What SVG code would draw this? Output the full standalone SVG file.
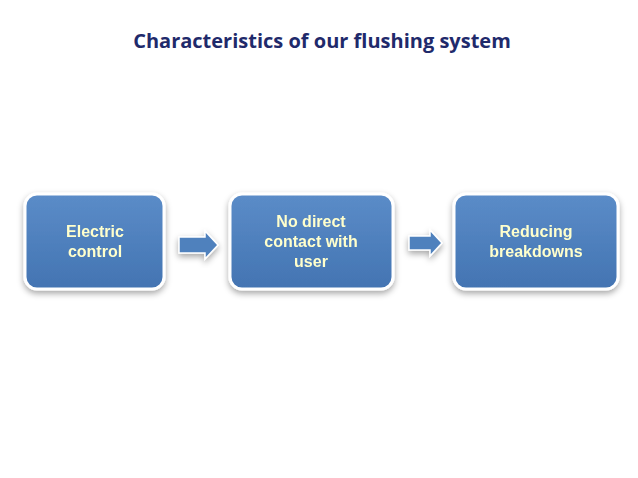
<svg xmlns="http://www.w3.org/2000/svg" width="638" height="478" viewBox="0 0 638 478">
<defs>
<style>
.box{fill:#4F81BD;stroke:#fff;stroke-width:3}
.lbl{font-family:"Liberation Sans",Arial,sans-serif;font-weight:bold;font-size:16px;fill:#FFFFCC;text-anchor:middle}
.arr{fill:#4F81BD;stroke:#fff;stroke-width:1.5}
</style>
<filter id="sh" x="-20%" y="-20%" width="140%" height="150%"><feDropShadow dx="0" dy="3" stdDeviation="3" flood-color="#000" flood-opacity="0.35"/></filter>
<linearGradient id="g" x1="0" y1="0" x2="0" y2="1"><stop offset="0" stop-color="#5B8CC8"/><stop offset="1" stop-color="#4374B2"/></linearGradient>
</defs>
<rect width="638" height="478" fill="#fff"/>
<text x="322" y="48" font-family="'Open Sans','Liberation Sans',sans-serif" font-weight="bold" font-size="20" fill="#1F2A6B" text-anchor="middle">Characteristics of our flushing system</text>
<g id="connectors" filter="url(#sh)">
<path class="arr" d="M179,237 H205 V231 L218,245 L205,259 V253 H179 Z"/>
<path class="arr" d="M409,236 H430 V230 L442,243 L430,256 V250 H409 Z"/>
</g>
<g id="n1" filter="url(#sh)"><rect class="box" x="25" y="194" width="139" height="95" rx="12" style="fill:url(#g)"/>
<text class="lbl" x="95" y="237">Electric</text><text class="lbl" x="95" y="257">control</text></g>
<g id="n2" filter="url(#sh)"><rect class="box" x="230" y="194" width="163" height="95" rx="12" style="fill:url(#g)"/>
<text class="lbl" x="311" y="227">No direct</text><text class="lbl" x="311" y="247">contact with</text><text class="lbl" x="311" y="267">user</text></g>
<g id="n3" filter="url(#sh)"><rect class="box" x="454" y="194" width="164" height="95" rx="12" style="fill:url(#g)"/>
<text class="lbl" x="536" y="237">Reducing</text><text class="lbl" x="536" y="257">breakdowns</text></g>
</svg>
